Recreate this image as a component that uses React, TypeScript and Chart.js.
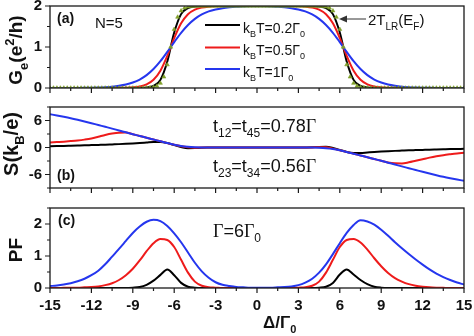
import React, { useEffect, useRef } from "react";
import { Chart, registerables } from "chart.js";
Chart.register(...registerables);

// ---------- data ----------
const delta = [
  -15, -14.5, -14, -13.5, -13, -12.5, -12, -11.5, -11, -10.5, -10, -9.5, -9, -8.5, -8, -7.5, -7, -6.5, -6, -5.5,
  -5, -4.5, -4, -3.5, -3, -2.5, -2, -1.5, -1, -0.5, 0, 0.5, 1, 1.5, 2, 2.5, 3, 3.5, 4, 4.5,
  5, 5.5, 6, 6.5, 7, 7.5, 8, 8.5, 9, 9.5, 10, 10.5, 11, 11.5, 12, 12.5, 13, 13.5, 14, 14.5, 15,
];
const deltaFine = [
  -15, -14.75, -14.5, -14.25, -14, -13.75, -13.5, -13.25, -13, -12.75, -12.5, -12.25, -12, -11.75, -11.5, -11.25,
  -11, -10.75, -10.5, -10.25, -10, -9.75, -9.5, -9.25, -9, -8.75, -8.5, -8.25, -8, -7.75, -7.5, -7.25, -7, -6.75,
  -6.5, -6.25, -6, -5.75, -5.5, -5.25, -5, -4.75, -4.5, -4.25, -4, -3.75, -3.5, -3.25, -3, -2.75, -2.5, -2.25, -2,
  -1.75, -1.5, -1.25, -1, -0.75, -0.5, -0.25, 0, 0.25, 0.5, 0.75, 1, 1.25, 1.5, 1.75, 2, 2.25, 2.5, 2.75, 3, 3.25,
  3.5, 3.75, 4, 4.25, 4.5, 4.75, 5, 5.25, 5.5, 5.75, 6, 6.25, 6.5, 6.75, 7, 7.25, 7.5, 7.75, 8, 8.25, 8.5, 8.75, 9,
  9.25, 9.5, 9.75, 10, 10.25, 10.5, 10.75, 11, 11.25, 11.5, 11.75, 12, 12.25, 12.5, 12.75, 13, 13.25, 13.5, 13.75,
  14, 14.25, 14.5, 14.75, 15,
];

// panel (a): conductance
const gExact = [
  0, 0, 0, 0, 0, 0, 0, 0, 0, 0, 0, 0, 0, 0, 0, 0, 0, 0, 0, 0, 0, 0, 0, 0, 0, 0, 0,
  0.001, 0.003, 0.008, 0.019, 0.048, 0.117, 0.271, 0.568, 1, 1.432, 1.729, 1.883, 1.952, 1.981, 1.992, 1.997, 1.999,
  2, 2, 2, 2, 2, 2, 2, 2, 2, 2, 2, 2, 2, 2, 2, 2, 2, 2, 2, 2, 2, 2, 2, 2, 2, 2, 2, 2, 2, 2, 2, 2, 2,
  1.999, 1.997, 1.992, 1.981, 1.952, 1.883, 1.729, 1.432, 1, 0.568, 0.271, 0.117, 0.048, 0.019, 0.008, 0.003, 0.001,
  0, 0, 0, 0, 0, 0, 0, 0, 0, 0, 0, 0, 0, 0, 0, 0, 0, 0, 0, 0, 0, 0, 0, 0, 0, 0, 0,
];
const gBlack = [
  0, 0, 0, 0, 0, 0, 0, 0, 0, 0, 0, 0,
  0.001, 0.003, 0.012, 0.049, 0.198, 0.648, 1.352, 1.802, 1.951, 1.988, 1.997, 1.999,
  2, 2, 2, 2, 2, 2, 2, 2, 2, 2, 2, 2, 2,
  1.999, 1.997, 1.988, 1.951, 1.802, 1.352, 0.648, 0.198, 0.049, 0.012, 0.003, 0.001,
  0, 0, 0, 0, 0, 0, 0, 0, 0, 0, 0, 0,
];
const gRed = [
  0, 0, 0, 0, 0, 0, 0, 0,
  0, 0.001, 0.003, 0.007, 0.016, 0.038, 0.089, 0.201, 0.423, 0.784, 1.216, 1.577, 1.799, 1.911, 1.962, 1.984, 1.993, 1.997, 1.999,
  2, 2, 2, 2, 2, 2, 2,
  1.999, 1.997, 1.993, 1.984, 1.962, 1.911, 1.799, 1.577, 1.216, 0.784, 0.423, 0.201, 0.089, 0.038, 0.016, 0.007, 0.003, 0.001, 0,
  0, 0, 0, 0, 0, 0, 0, 0,
];
const gBlue = [
  0, 0.001, 0.001, 0.002, 0.003, 0.005, 0.008, 0.013, 0.021, 0.033, 0.053, 0.084, 0.133, 0.206, 0.313, 0.462,
  0.654, 0.88, 1.119, 1.346, 1.537, 1.686, 1.794, 1.868, 1.916, 1.947, 1.967, 1.98, 1.987, 1.992, 1.995,
  1.992, 1.987, 1.98, 1.967, 1.947, 1.916, 1.868, 1.794, 1.686, 1.537, 1.346, 1.119, 0.88, 0.654,
  0.462, 0.313, 0.206, 0.133, 0.084, 0.053, 0.033, 0.021, 0.013, 0.008, 0.005, 0.003, 0.002, 0.001, 0.001, 0,
];

// panel (b): thermopower
const sBlack = [
  0.3, 0.33, 0.36, 0.4, 0.44, 0.48, 0.53, 0.58, 0.63, 0.69, 0.75, 0.82, 0.9, 1.0, 1.12, 1.24, 1.22, 0.98, 0.55, 0.1,
  -0.15, -0.12, -0.05, -0.02, 0, 0, 0, 0, 0, 0, 0, 0, 0, 0, 0, 0, 0, 0.02, 0.05, 0.12,
  0.15, -0.1, -0.55, -0.98, -1.22, -1.24, -1.12, -1.0, -0.9, -0.82, -0.75, -0.69, -0.63, -0.58, -0.53, -0.48, -0.44, -0.4, -0.36, -0.33, -0.3,
];
const sRed = [
  1.1, 1.2, 1.3, 1.42, 1.56, 1.75, 2.0, 2.38, 2.78, 3.1, 3.3, 3.33, 2.96, 2.56, 2.16, 1.77, 1.38, 0.97, 0.6, 0.28,
  0.06, -0.03, -0.02, 0, 0, 0, 0, 0, 0, 0, 0, 0, 0, 0, 0, 0, 0, 0, 0.02, 0.04,
  0.04, -0.25, -0.6, -0.97, -1.38, -1.77, -2.16, -2.56, -2.96, -3.33, -3.52, -3.55, -3.3, -2.95, -2.6, -2.25, -1.95, -1.7, -1.5, -1.32, -1.18,
];
const sBlue = [
  7.4, 7.12, 6.82, 6.5, 6.15, 5.78, 5.4, 5.0, 4.6, 4.2, 3.78, 3.37, 2.96, 2.56, 2.16, 1.77, 1.38, 0.98, 0.62, 0.33,
  0.15, 0.06, 0.02, 0.01, 0, 0, 0, 0, 0, 0, 0, 0, 0, 0, 0, 0, 0, -0.01, -0.02, -0.06,
  -0.15, -0.33, -0.62, -0.98, -1.38, -1.77, -2.16, -2.56, -2.96, -3.37, -3.78, -4.2, -4.6, -5.0, -5.4, -5.78, -6.15, -6.5, -6.82, -7.12, -7.4,
];

// panel (c): power factor
const pfBlack = [
  0, 0, 0, 0, 0, 0, 0, 0, 0, 0, 0, 0,
  0.01, 0.03, 0.1, 0.23, 0.41, 0.58, 0.4, 0.16, 0.04, 0.01,
  0, 0, 0, 0, 0, 0, 0, 0, 0, 0, 0, 0, 0, 0, 0, 0, 0,
  0.01, 0.04, 0.16, 0.42, 0.58, 0.42, 0.25, 0.12, 0.04, 0.01,
  0, 0, 0, 0, 0, 0, 0, 0, 0, 0, 0, 0,
];
const pfRed = [
  0, 0, 0.005, 0.007, 0.01, 0.02, 0.03, 0.05, 0.09, 0.15, 0.25, 0.4, 0.6, 0.86, 1.15, 1.4, 1.53, 1.5, 1.28, 0.88,
  0.48, 0.2, 0.07, 0.02, 0.01, 0, 0, 0, 0, 0, 0, 0, 0, 0, 0, 0, 0.01, 0.02, 0.07, 0.2,
  0.48, 0.88, 1.28, 1.5, 1.53, 1.42, 1.2, 0.93, 0.68, 0.47, 0.31, 0.2, 0.12, 0.07, 0.04, 0.02, 0.01, 0.005, 0, 0, 0,
];
const pfBlue = [
  0.06, 0.08, 0.11, 0.15, 0.21, 0.29, 0.4, 0.54, 0.74, 0.98, 1.22, 1.47, 1.72, 1.92, 2.07, 2.13, 2.09, 1.94, 1.71, 1.43,
  1.11, 0.79, 0.52, 0.32, 0.18, 0.1, 0.06, 0.03, 0.02, 0.01, 0.01, 0.01, 0.01, 0.02, 0.03, 0.05, 0.09, 0.17, 0.29, 0.48,
  0.74, 1.06, 1.4, 1.72, 1.97, 2.12, 2.08, 1.98, 1.82, 1.63, 1.43, 1.24, 1.06, 0.89, 0.73, 0.58, 0.45, 0.34, 0.25, 0.17, 0.11,
];

// ticks
const xTickMarks = [-15, -13.5, -12, -10.5, -9, -7.5, -6, -4.5, -3, -1.5, 0, 1.5, 3, 4.5, 6, 7.5, 9, 10.5, 12, 13.5, 15];
const xTickLabels = [-15, -12, -9, -6, -3, 0, 3, 6, 9, 12, 15];
const gTickMarks = [0, 0.5, 1, 1.5, 2];
const gTickLabels = [0, 1, 2];
const sTickMarks = [-9, -6, -3, 0, 3, 6, 9];
const sTickLabels = [-6, 0, 6];
const pfTickMarks = [0, 0.5, 1, 1.5, 2, 2.5];
const pfTickLabels = [0, 1, 2];

// ---------- style ----------
const SANS = '"Liberation Sans", Arial, Helvetica, sans-serif';
const SERIF = '"Liberation Serif", "Times New Roman", serif';
const BLACK = "#000000";
const RED = "#ee1b1b";
const BLUE = "#2536ee";
const GREEN = "#7f9f2a";
const INK = "#111111";

type Seg = { t: string; k?: "sub" | "sup"; serif?: boolean };

function rich(ctx: CanvasRenderingContext2D, segs: Seg[], x: number, y: number, size: number, bold: boolean, align: "left" | "center" = "left") {
  const font = (s: Seg) => `${bold ? "bold " : ""}${s.k ? Math.round(size * 0.66) : size}px ${s.serif ? SERIF : SANS}`;
  const widths = segs.map((s) => {
    ctx.font = font(s);
    return ctx.measureText(s.t).width;
  });
  const total = widths.reduce((a, b) => a + b, 0);
  let cx = align === "center" ? x - total / 2 : x;
  ctx.textAlign = "left";
  ctx.textBaseline = "alphabetic";
  ctx.fillStyle = INK;
  segs.forEach((s, i) => {
    ctx.font = font(s);
    const dy = s.k === "sub" ? size * 0.3 : s.k === "sup" ? -size * 0.42 : 0;
    ctx.fillText(s.t, cx, y + dy);
    cx += widths[i];
  });
}

function richRotated(ctx: CanvasRenderingContext2D, segs: Seg[], baseX: number, centerY: number, size: number) {
  ctx.save();
  ctx.translate(baseX, centerY);
  ctx.rotate(-Math.PI / 2);
  rich(ctx, segs, 0, 0, size, true, "center");
  ctx.restore();
}

function series(xs: number[], ys: number[], color: string, order: number) {
  return {
    data: xs.map((x, i) => ({ x, y: ys[i] })),
    borderColor: color,
    backgroundColor: color,
    borderWidth: 2,
    pointRadius: 0,
    cubicInterpolationMode: "monotone" as const,
    order,
  };
}

function framePlugin(yMarks: number[], yMajor: number[], extra: (ctx: CanvasRenderingContext2D) => void) {
  return {
    id: "frame",
    afterDraw(chart: any) {
      const { ctx, chartArea: a, scales } = chart;
      ctx.save();
      ctx.strokeStyle = "#1a1a1a";
      ctx.lineWidth = 1.3;
      ctx.strokeRect(a.left, a.top, a.right - a.left, a.bottom - a.top);
      ctx.lineWidth = 1.2;
      ctx.beginPath();
      xTickMarks.forEach((v) => {
        const p = scales.x.getPixelForValue(v);
        const L = xTickLabels.includes(v) ? 5 : 3;
        ctx.moveTo(p, a.bottom);
        ctx.lineTo(p, a.bottom + L);
      });
      yMarks.forEach((v) => {
        const p = scales.y.getPixelForValue(v);
        const L = yMajor.includes(v) ? 5 : 3;
        ctx.moveTo(a.left, p);
        ctx.lineTo(a.left - L, p);
      });
      ctx.stroke();
      extra(ctx);
      ctx.restore();
    },
  };
}

function makeChart(
  canvas: HTMLCanvasElement,
  datasets: any[],
  yMin: number,
  yMax: number,
  yMarks: number[],
  yLabels: number[],
  padTop: number,
  showX: boolean,
  extra: (ctx: CanvasRenderingContext2D) => void
) {
  const tickFont = { family: SANS, size: 15, weight: "bold" as const };
  const xHeight = showX ? 48 : 12;
  return new Chart(canvas, {
    type: "line",
    data: { datasets },
    options: {
      animation: false,
      responsive: false,
      devicePixelRatio: 1,
      layout: { padding: { top: padTop, right: 10, left: 0, bottom: 0 } },
      plugins: { legend: { display: false }, tooltip: { enabled: false } },
      scales: {
        x: {
          type: "linear",
          min: -15,
          max: 15,
          afterBuildTicks: (s: any) => {
            s.ticks = xTickLabels.map((v) => ({ value: v }));
          },
          ticks: { display: showX, autoSkip: false, maxRotation: 0, padding: 3, color: INK, font: tickFont, callback: (v: any) => String(v) },
          grid: { display: true, drawOnChartArea: false, color: "rgba(0,0,0,0)", tickLength: 6 },
          border: { display: false },
          afterFit: (s: any) => {
            s.height = xHeight;
            s.paddingLeft = 0;
            s.paddingRight = 0;
          },
        },
        y: {
          type: "linear",
          min: yMin,
          max: yMax,
          afterBuildTicks: (s: any) => {
            s.ticks = yLabels.map((v) => ({ value: v }));
          },
          ticks: { padding: 2, color: INK, font: tickFont, callback: (v: any) => String(v) },
          grid: { display: true, drawOnChartArea: false, color: "rgba(0,0,0,0)", tickLength: 6 },
          border: { display: false },
          afterFit: (s: any) => {
            s.width = 50;
            s.paddingTop = 0;
            s.paddingBottom = 0;
          },
        },
      },
    },
    plugins: [framePlugin(yMarks, yLabels, extra)],
  } as any);
}

export default function App() {
  const refA = useRef<HTMLCanvasElement>(null);
  const refB = useRef<HTMLCanvasElement>(null);
  const refC = useRef<HTMLCanvasElement>(null);

  useEffect(() => {
    const greenSet = {
      data: deltaFine.map((x, i) => ({ x, y: gExact[i] })),
      showLine: false,
      pointStyle: "triangle",
      pointRadius: 2.3,
      pointBackgroundColor: GREEN,
      pointBorderColor: GREEN,
      pointBorderWidth: 0.6,
      order: 0,
    };
    const chartA = makeChart(
      refA.current!,
      [greenSet, series(delta, gBlue, BLUE, 1), series(delta, gRed, RED, 2), series(delta, gBlack, BLACK, 3)],
      0, 2, gTickMarks, gTickLabels, 6, false,
      (ctx) => {
        rich(ctx, [{ t: "(a)" }], 57, 23, 14, true);
        rich(ctx, [{ t: "N=5" }], 95, 28, 15, false);
        const rows: [string, string, number][] = [
          [BLACK, "0.2", 25],
          [RED, "0.5", 47.5],
          [BLUE, "1", 69],
        ];
        rows.forEach(([c, v, y]) => {
          ctx.strokeStyle = c;
          ctx.lineWidth = 2.2;
          ctx.beginPath();
          ctx.moveTo(205, y);
          ctx.lineTo(240, y);
          ctx.stroke();
          rich(ctx, [{ t: "k" }, { t: "B", k: "sub" }, { t: "T=" + v + "Γ" }, { t: "0", k: "sub" }], 243, y + 7.5, 14, false);
        });
        ctx.strokeStyle = "#333";
        ctx.fillStyle = "#333";
        ctx.lineWidth = 1;
        ctx.beginPath();
        ctx.moveTo(366, 19);
        ctx.lineTo(345, 19);
        ctx.stroke();
        ctx.beginPath();
        ctx.moveTo(339, 19);
        ctx.lineTo(347, 15.5);
        ctx.lineTo(347, 22.5);
        ctx.closePath();
        ctx.fill();
        rich(ctx, [{ t: "2T" }, { t: "LR", k: "sub" }, { t: "(E" }, { t: "F", k: "sub" }, { t: ")" }], 368, 25, 15, false);
        richRotated(ctx, [{ t: "G" }, { t: "e", k: "sub" }, { t: "(e" }, { t: "2", k: "sup" }, { t: "/h)" }], 22, 50, 19);
      }
    );
    const chartB = makeChart(
      refB.current!,
      [series(delta, sBlue, BLUE, 1), series(delta, sRed, RED, 2), series(delta, sBlack, BLACK, 3)],
      -9, 9, sTickMarks, sTickLabels, 7, false,
      (ctx) => {
        rich(ctx, [{ t: "(b)" }], 57, 80, 14, true);
        rich(ctx, [{ t: "t" }, { t: "12", k: "sub" }, { t: "=t" }, { t: "45", k: "sub" }, { t: "=0.78" }, { t: "Γ", serif: true }], 213, 32, 18, false);
        rich(ctx, [{ t: "t" }, { t: "23", k: "sub" }, { t: "=t" }, { t: "34", k: "sub" }, { t: "=0.56" }, { t: "Γ", serif: true }], 213, 72, 18, false);
        richRotated(ctx, [{ t: "S(k" }, { t: "B", k: "sub" }, { t: "/e)" }], 18, 44, 20);
      }
    );
    const chartC = makeChart(
      refC.current!,
      [series(delta, pfBlue, BLUE, 1), series(delta, pfRed, RED, 2), series(delta, pfBlack, BLACK, 3)],
      0, 2.5, pfTickMarks, pfTickLabels, 8, true,
      (ctx) => {
        rich(ctx, [{ t: "(c)" }], 58, 25, 14, true);
        rich(ctx, [{ t: "Γ", serif: true }, { t: "=6" }, { t: "Γ", serif: true }, { t: "0", k: "sub" }], 213, 37, 18, false);
        rich(ctx, [{ t: "Δ/Γ" }, { t: "0", k: "sub" }], 263, 128, 17, true);
        richRotated(ctx, [{ t: "PF" }], 22, 50, 19);
      }
    );
    return () => {
      chartA.destroy();
      chartB.destroy();
      chartC.destroy();
    };
  }, []);

  const cs = (top: number, h: number): React.CSSProperties => ({ position: "absolute", left: 0, top, width: 474, height: h, display: "block" });
  return (
    <div style={{ position: "absolute", left: 0, top: 0, width: 474, height: 336, background: "#ffffff", overflow: "hidden" }}>
      <canvas ref={refA} width={474} height={100} style={cs(0, 100)} />
      <canvas ref={refB} width={474} height={100} style={cs(100, 100)} />
      <canvas ref={refC} width={474} height={136} style={cs(200, 136)} />
    </div>
  );
}
